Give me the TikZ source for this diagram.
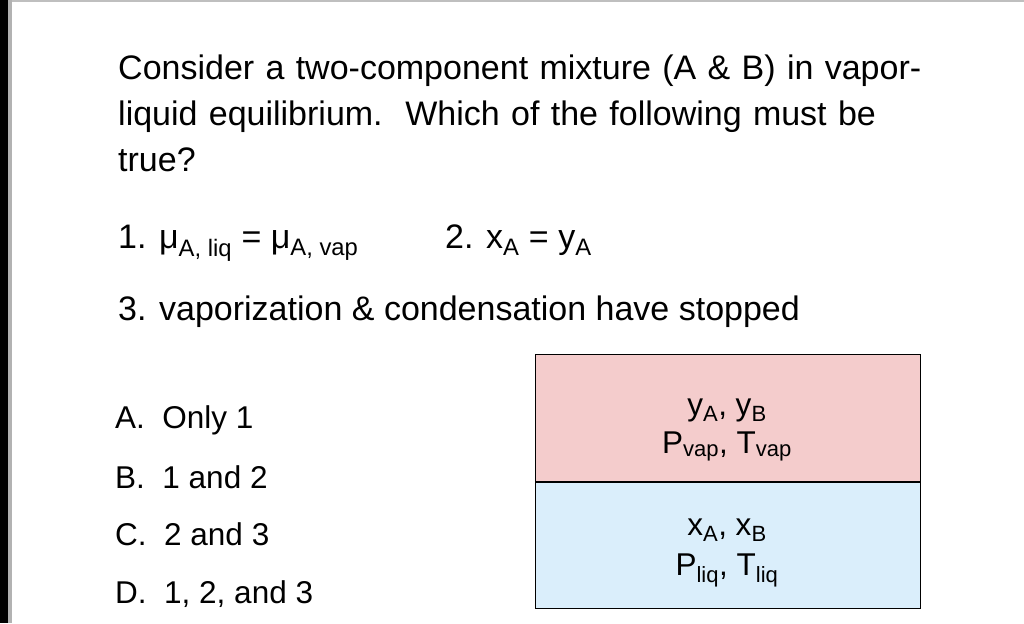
\documentclass[tikz,border=0pt]{standalone}
\usepackage{fontspec}
\setmainfont{Liberation Sans}
\begin{document}
\begin{tikzpicture}[x=1pt,y=-1pt,
  txt/.style={anchor=base west,inner sep=0pt,font=\fontsize{34}{46}\selectfont},
  opt/.style={anchor=base west,inner sep=0pt,font=\fontsize{31.5}{34}\selectfont},
  box/.style={anchor=base,inner sep=0pt,font=\fontsize{31.5}{38}\selectfont,align=center}]
\useasboundingbox (0,0) rectangle (1024,623);
\fill[white] (0,0) rectangle (1024,623);
\fill[black] (0,0) rectangle (8,623);
\fill[black!30] (8,0) rectangle (12,623);
\fill[black!25] (12,0) rectangle (1024,2);
\node[txt,align=left,text width=900pt] (q) at (118,80) {Consider a two-component mixture (A \& B) in vapor-\\liquid equilibrium.\ \ Which of the following must be\\true?};
\node[txt] (i1) at (118,248) {1. μ\textsubscript{A, liq} = μ\textsubscript{A, vap}};
\node[txt] (i2) at (445,248) {2. x\textsubscript{A} = y\textsubscript{A}};
\node[txt] (i3) at (118,320) {3. vaporization \& condensation have stopped};
\node[opt] (oa) at (115,428) {A.\ \ Only 1};
\node[opt] (ob) at (115,488) {B.\ \ 1 and 2};
\node[opt] (oc) at (115,545) {C.\ \ 2 and 3};
\node[opt] (od) at (115,603) {D.\ \ 1, 2, and 3};
\fill[fill={rgb,255:red,244;green,204;blue,204}] (535,354) rectangle (920,482);
\fill[fill={rgb,255:red,218;green,238;blue,251}] (535,482) rectangle (920,608);
\draw[line width=1pt] (535,354) rectangle (920,608);
\draw[line width=2pt] (535,482) -- (920,482);
\node[box] (v1) at (727,415) {y\textsubscript{A}, y\textsubscript{B}};
\node[box] (v2) at (727,453) {P\textsubscript{vap}, T\textsubscript{vap}};
\node[box] (l1) at (727,535) {x\textsubscript{A}, x\textsubscript{B}};
\node[box] (l2) at (727,575) {P\textsubscript{liq}, T\textsubscript{liq}};
\end{tikzpicture}
\end{document}
